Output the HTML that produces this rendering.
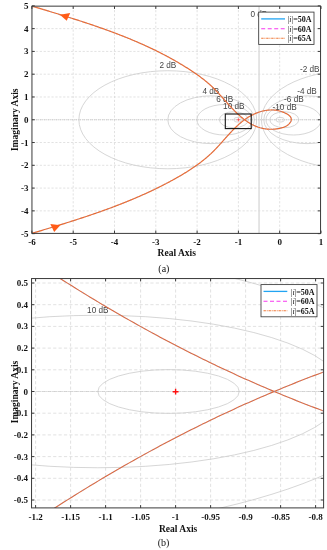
<!DOCTYPE html>
<html lang="en">
<head>
<meta charset="utf-8">
<title>Nyquist plots</title>
<style>
html,body{margin:0;padding:0;background:#fff;}
body{width:327px;height:550px;overflow:hidden;}
svg{display:block;}
</style>
</head>
<body>
<svg width="327" height="550" viewBox="0 0 327 550">
<defs>
<clipPath id="ct"><rect x="31.95" y="6.15" width="288.60" height="227.25"/></clipPath>
<clipPath id="cb"><rect x="31.55" y="278.55" width="292.05" height="229.35"/></clipPath>
<filter id="soft" x="0" y="0" width="100%" height="100%" filterUnits="userSpaceOnUse" color-interpolation-filters="sRGB"><feGaussianBlur stdDeviation="0.35"/></filter>
</defs>
<rect width="327" height="550" fill="#fff"/>
<g filter="url(#soft)">
<rect width="327" height="550" fill="#fff"/>
<g stroke="#d8d8d8" stroke-width="0.75" stroke-dasharray="2.2 1.7" fill="none">
<path d="M73.20 6.15V233.4"/>
<path d="M114.50 6.15V233.4"/>
<path d="M155.80 6.15V233.4"/>
<path d="M197.10 6.15V233.4"/>
<path d="M238.40 6.15V233.4"/>
<path d="M279.70 6.15V233.4"/>
<path d="M31.95 210.87H320.55"/>
<path d="M31.95 188.09H320.55"/>
<path d="M31.95 165.31H320.55"/>
<path d="M31.95 142.53H320.55"/>
<path d="M31.95 119.75H320.55"/>
<path d="M31.95 96.97H320.55"/>
<path d="M31.95 74.19H320.55"/>
<path d="M31.95 51.41H320.55"/>
<path d="M31.95 28.63H320.55"/>
</g>
<g clip-path="url(#ct)" stroke="#cbcbcb" stroke-width="0.8" fill="none">
<ellipse cx="167.79" cy="119.75" rx="88.89" ry="49.03"/>
<ellipse cx="211.08" cy="119.75" rx="43.29" ry="23.88"/>
<ellipse cx="224.55" cy="119.75" rx="27.64" ry="15.25"/>
<ellipse cx="233.81" cy="119.75" rx="14.51" ry="8.00"/>
<ellipse cx="237.98" cy="119.75" rx="4.17" ry="2.30"/>
<ellipse cx="350.31" cy="119.75" rx="88.89" ry="49.03"/>
<ellipse cx="307.02" cy="119.75" rx="43.29" ry="23.88"/>
<ellipse cx="293.55" cy="119.75" rx="27.64" ry="15.25"/>
<ellipse cx="284.29" cy="119.75" rx="14.51" ry="8.00"/>
<ellipse cx="280.12" cy="119.75" rx="4.17" ry="2.30"/>
<path d="M259.05 6.15V233.4" stroke="#dcdcdc" stroke-width="1.5"/>
<path d="M31.95 119.75H320.55" stroke="#c4c4c4" stroke-dasharray="1.2 0.8"/>
</g>
<g font-family="'Liberation Sans', sans-serif" font-size="8.2" fill="#444">
<text x="167.9" y="68.3" text-anchor="middle">2 dB</text>
<text x="210.8" y="93.5" text-anchor="middle">4 dB</text>
<text x="224.7" y="102.0" text-anchor="middle">6 dB</text>
<text x="233.8" y="109.2" text-anchor="middle">10 dB</text>
<text x="307.0" y="94.1" text-anchor="middle">-4 dB</text>
<text x="293.9" y="102.2" text-anchor="middle">-6 dB</text>
<text x="284.6" y="109.7" text-anchor="middle">-10 dB</text>
<text x="309.8" y="71.5" text-anchor="middle">-2 dB</text>
<text x="258.9" y="17.0" text-anchor="middle">0 dB</text>
</g>
<g clip-path="url(#ct)" stroke="#EF6A2B" stroke-width="1.2" fill="none" stroke-linejoin="round">
<path id="nyq" d="M20.06 2.46L20.91 2.72L21.75 2.98L22.59 3.23L23.44 3.49L24.28 3.75L25.13 4.01L25.97 4.26L26.82 4.52L27.66 4.78L28.51 5.03L29.35 5.29L30.20 5.55L31.05 5.80L31.89 6.06L32.74 6.31L33.59 6.57L34.43 6.83L35.28 7.08L36.13 7.34L36.98 7.60L37.83 7.85L38.67 8.11L39.52 8.37L40.37 8.62L41.22 8.88L42.07 9.13L42.92 9.39L43.77 9.65L44.61 9.91L45.46 10.16L46.31 10.42L47.16 10.68L48.01 10.94L48.86 11.19L49.71 11.45L50.56 11.71L51.41 11.97L52.26 12.23L53.11 12.49L53.96 12.75L54.81 13.00L55.66 13.26L56.51 13.52L57.36 13.79L58.21 14.05L59.06 14.31L59.91 14.57L60.76 14.83L61.60 15.09L62.45 15.36L63.30 15.62L64.15 15.88L65.00 16.15L65.85 16.41L66.70 16.68L67.55 16.94L68.40 17.21L69.25 17.47L70.10 17.74L70.94 18.01L71.79 18.28L72.64 18.55L73.49 18.82L74.34 19.08L75.19 19.36L76.03 19.63L76.88 19.90L77.73 20.17L78.58 20.44L79.42 20.72L80.27 20.99L81.12 21.27L81.96 21.54L82.81 21.82L83.65 22.09L84.50 22.37L85.34 22.65L86.19 22.93L87.03 23.21L87.88 23.49L88.72 23.77L89.57 24.05L90.41 24.34L91.25 24.62L92.10 24.91L92.94 25.19L93.78 25.48L94.62 25.77L95.46 26.06L96.31 26.34L97.15 26.64L97.99 26.93L98.83 27.22L99.67 27.51L100.51 27.81L101.35 28.10L102.19 28.40L103.02 28.69L103.86 28.99L104.70 29.29L105.54 29.59L106.37 29.89L107.21 30.20L108.04 30.50L108.88 30.80L109.71 31.11L110.55 31.42L111.38 31.72L112.21 32.03L113.05 32.34L113.88 32.66L114.71 32.97L115.54 33.28L116.37 33.60L117.20 33.91L118.03 34.23L118.86 34.55L119.69 34.87L120.52 35.19L121.35 35.52L122.17 35.84L123.00 36.16L123.82 36.49L124.65 36.82L125.47 37.15L126.30 37.48L127.12 37.81L127.94 38.15L128.77 38.48L129.59 38.82L130.41 39.16L131.23 39.49L132.05 39.84L132.86 40.18L133.68 40.52L134.50 40.87L135.32 41.21L136.13 41.56L136.95 41.91L137.76 42.26L138.58 42.62L139.39 42.97L140.20 43.33L141.01 43.68L141.82 44.04L142.63 44.41L143.44 44.77L144.25 45.13L145.06 45.50L145.86 45.87L146.67 46.24L147.47 46.61L148.28 46.98L149.08 47.35L149.88 47.73L150.69 48.11L151.49 48.49L152.29 48.87L153.09 49.25L153.88 49.64L154.68 50.03L155.48 50.41L156.27 50.80L157.07 51.20L157.86 51.59L158.66 51.99L159.45 52.39L160.24 52.79L161.03 53.19L161.82 53.59L162.61 54.00L163.39 54.41L164.18 54.82L164.96 55.23L165.75 55.64L166.53 56.06L167.31 56.48L168.10 56.90L168.88 57.32L169.66 57.74L170.43 58.17L171.21 58.60L171.99 59.03L172.76 59.46L173.54 59.89L174.31 60.33L175.08 60.77L175.85 61.21L176.62 61.65L177.39 62.10L178.16 62.55L178.92 63.00L179.69 63.45L180.45 63.90L181.22 64.36L181.98 64.82L182.74 65.28L183.50 65.74L184.26 66.21L185.02 66.68L185.77 67.15L186.53 67.62L187.28 68.10L188.03 68.57L188.78 69.05L189.53 69.54L190.28 70.02L191.03 70.51L191.77 71.00L192.52 71.49L193.26 71.99L194.00 72.49L194.74 72.99L195.47 73.50L196.20 74.00L196.93 74.52L197.66 75.03L198.38 75.55L199.11 76.07L199.82 76.60L200.54 77.13L201.25 77.66L201.96 78.20L202.67 78.74L203.37 79.28L204.07 79.83L204.76 80.39L205.45 80.95L206.14 81.51L206.82 82.07L207.50 82.65L208.17 83.22L208.84 83.80L209.50 84.39L210.16 84.98L210.82 85.57L211.47 86.17L212.11 86.78L212.75 87.39L213.38 88.00L214.01 88.62L214.64 89.25L215.26 89.88L215.87 90.51L216.49 91.15L217.10 91.79L217.70 92.43L218.31 93.08L218.91 93.73L219.51 94.38L220.10 95.03L220.70 95.69L221.29 96.35L221.88 97.01L222.47 97.67L223.06 98.33L223.65 98.99L224.24 99.66L224.83 100.32L225.42 100.99L226.01 101.65L226.60 102.32L227.20 102.98L227.79 103.64L228.39 104.30L228.99 104.96L229.59 105.62L230.19 106.28L230.80 106.93L231.40 107.59L232.02 108.24L232.63 108.88L233.25 109.53L233.88 110.17L234.51 110.81L235.14 111.44L235.78 112.07L236.42 112.70L237.07 113.32L237.72 113.93L238.38 114.54L239.05 115.15L239.72 115.74L240.40 116.34L241.08 116.92L241.77 117.49L242.46 118.06L243.16 118.62L243.86 119.17L244.58 119.71L245.29 120.24L246.02 120.76L246.75 121.26L247.48 121.76L248.22 122.25L248.97 122.72L249.73 123.18L250.49 123.62L251.26 124.05L252.03 124.47L252.81 124.87L253.60 125.26L254.40 125.63L255.20 125.99L256.00 126.33L256.82 126.65L257.64 126.95L258.47 127.24L259.31 127.51L260.15 127.76L261.00 127.99L261.85 128.20L262.71 128.40L263.58 128.57L264.45 128.73L265.33 128.86L266.20 128.98L267.09 129.08L267.97 129.16L268.86 129.22L269.75 129.25L270.65 129.27L271.54 129.27L272.44 129.25L273.34 129.21L274.23 129.15L275.13 129.07L276.03 128.97L276.93 128.85L277.82 128.71L278.72 128.55L279.61 128.37L280.50 128.16L281.39 127.94L282.27 127.68L283.13 127.41L283.98 127.10L284.81 126.75L285.61 126.37L286.39 125.95L287.13 125.49L287.84 124.99L288.51 124.43L289.13 123.83L289.71 123.17L290.23 122.46L290.69 121.70L291.04 120.90L291.25 120.08L291.30 119.25L291.17 118.44L290.89 117.66L290.47 116.92L289.94 116.24L289.32 115.62L288.62 115.05L287.87 114.53L287.07 114.05L286.26 113.60L285.44 113.18L284.61 112.78L283.77 112.41L282.93 112.07L282.08 111.76L281.23 111.47L280.37 111.21L279.51 110.97L278.64 110.76L277.77 110.57L276.90 110.41L276.02 110.27L275.14 110.16L274.26 110.08L273.38 110.02L272.49 109.98L271.61 109.97L270.72 109.98L269.84 110.01L268.95 110.06L268.07 110.14L267.19 110.24L266.30 110.36L265.42 110.50L264.55 110.66L263.67 110.84L262.80 111.04L261.93 111.26L261.07 111.49L260.21 111.74L259.36 112.01L258.51 112.30L257.66 112.60L256.83 112.92L256.00 113.25L255.17 113.60L254.36 113.96L253.55 114.34L252.75 114.73L251.96 115.13L251.18 115.54L250.41 115.97L249.64 116.41L248.89 116.86L248.14 117.32L247.40 117.79L246.67 118.27L245.94 118.76L245.23 119.26L244.52 119.77L243.81 120.29L243.12 120.82L242.43 121.36L241.74 121.90L241.07 122.46L240.39 123.02L239.73 123.59L239.07 124.17L238.41 124.76L237.76 125.35L237.11 125.95L236.47 126.55L235.84 127.16L235.20 127.78L234.57 128.40L233.95 129.03L233.33 129.66L232.71 130.29L232.09 130.93L231.48 131.58L230.87 132.23L230.26 132.88L229.65 133.53L229.05 134.19L228.45 134.85L227.84 135.51L227.24 136.18L226.65 136.84L226.05 137.51L225.45 138.18L224.85 138.85L224.26 139.52L223.66 140.19L223.06 140.86L222.46 141.53L221.87 142.20L221.27 142.87L220.67 143.53L220.06 144.20L219.46 144.86L218.86 145.53L218.25 146.19L217.64 146.84L217.03 147.50L216.41 148.15L215.79 148.80L215.17 149.44L214.55 150.08L213.92 150.72L213.29 151.35L212.66 151.98L212.02 152.60L211.37 153.21L210.73 153.83L210.07 154.43L209.42 155.03L208.76 155.63L208.09 156.22L207.42 156.80L206.75 157.38L206.08 157.96L205.40 158.53L204.71 159.10L204.03 159.66L203.34 160.22L202.64 160.77L201.94 161.32L201.24 161.86L200.54 162.40L199.83 162.94L199.12 163.47L198.41 164.00L197.69 164.52L196.97 165.04L196.25 165.56L195.52 166.07L194.80 166.58L194.07 167.08L193.33 167.58L192.60 168.08L191.86 168.57L191.12 169.06L190.37 169.55L189.63 170.03L188.88 170.51L188.13 170.99L187.38 171.47L186.63 171.94L185.87 172.41L185.12 172.87L184.36 173.33L183.60 173.79L182.83 174.25L182.07 174.71L181.30 175.16L180.54 175.61L179.77 176.06L179.00 176.50L178.23 176.94L177.46 177.38L176.68 177.82L175.91 178.26L175.13 178.69L174.36 179.13L173.58 179.56L172.80 179.98L172.02 180.41L171.24 180.84L170.46 181.26L169.68 181.68L168.90 182.10L168.11 182.52L167.33 182.93L166.54 183.34L165.76 183.76L164.97 184.16L164.18 184.57L163.39 184.98L162.60 185.38L161.81 185.78L161.02 186.18L160.23 186.58L159.44 186.98L158.64 187.37L157.85 187.77L157.05 188.16L156.25 188.55L155.46 188.94L154.66 189.32L153.86 189.71L153.06 190.09L152.26 190.47L151.46 190.85L150.66 191.23L149.85 191.61L149.05 191.98L148.24 192.35L147.44 192.73L146.63 193.10L145.83 193.46L145.02 193.83L144.21 194.20L143.40 194.56L142.59 194.92L141.78 195.28L140.97 195.64L140.16 196.00L139.35 196.35L138.53 196.71L137.72 197.06L136.90 197.41L136.09 197.76L135.27 198.11L134.46 198.46L133.64 198.80L132.82 199.15L132.00 199.49L131.19 199.83L130.37 200.17L129.55 200.51L128.72 200.85L127.90 201.18L127.08 201.52L126.26 201.85L125.43 202.18L124.61 202.51L123.79 202.84L122.96 203.17L122.14 203.50L121.31 203.82L120.48 204.15L119.66 204.47L118.83 204.79L118.00 205.11L117.17 205.43L116.34 205.75L115.51 206.07L114.68 206.38L113.85 206.70L113.02 207.01L112.19 207.32L111.36 207.63L110.52 207.94L109.69 208.25L108.86 208.56L108.02 208.87L107.19 209.17L106.35 209.48L105.52 209.78L104.68 210.08L103.85 210.38L103.01 210.68L102.17 210.98L101.33 211.28L100.50 211.58L99.66 211.87L98.82 212.17L97.98 212.46L97.14 212.76L96.30 213.05L95.46 213.34L94.62 213.63L93.78 213.92L92.94 214.21L92.10 214.50L91.26 214.79L90.41 215.07L89.57 215.36L88.73 215.64L87.89 215.92L87.04 216.21L86.20 216.49L85.36 216.77L84.51 217.05L83.67 217.33L82.82 217.61L81.98 217.89L81.13 218.16L80.29 218.44L79.44 218.72L78.59 218.99L77.75 219.27L76.90 219.54L76.06 219.81L75.21 220.09L74.36 220.36L73.51 220.63L72.67 220.90L71.82 221.17L70.97 221.44L70.12 221.71L69.28 221.97L68.43 222.24L67.58 222.51L66.73 222.78L65.88 223.04L65.03 223.31L64.18 223.57L63.34 223.83L62.49 224.10L61.64 224.36L60.79 224.62L59.94 224.89L59.09 225.15L58.24 225.41L57.39 225.67L56.54 225.93L55.69 226.19L54.84 226.45L53.99 226.71L53.14 226.97L52.29 227.23L51.44 227.48L50.59 227.74L49.74 228.00L48.89 228.26L48.04 228.51L47.19 228.77L46.34 229.03L45.49 229.28L44.64 229.54L43.79 229.79L42.94 230.05L42.09 230.30L41.24 230.56L40.39 230.81L39.54 231.06L38.69 231.32L37.84 231.57L36.99 231.82L36.14 232.08L35.29 232.33L34.44 232.58L33.59 232.84L32.74 233.09L31.89 233.34L31.05 233.59L30.20 233.85L29.35 234.10L28.50 234.35L27.65 234.60L26.80 234.86L25.95 235.11L25.11 235.36L24.26 235.61L23.41 235.86L22.56 236.12L21.72 236.37L20.87 236.62L20.02 236.87"/>
<use href="#nyq" stroke="#7f8fd0" stroke-width="0.9" stroke-dasharray="1.1 2.9" opacity="0.7"/>
</g>
<path d="M59.9 14.7L70.2 12.9L66.7 20.8Z" fill="#FF5C18"/>
<path d="M60.3 225.3L50.3 223.9L54.2 231.9Z" fill="#FF5C18"/>
<path d="M236.80 119.75H240.00M238.40 118.15V121.35" stroke="#f33" stroke-width="0.7" fill="none"/>
<rect x="225.3" y="114.0" width="25.9" height="14.6" fill="none" stroke="#111" stroke-width="1.1"/>
<g stroke="#3a3a3a" stroke-width="1" fill="none">
<rect x="31.95" y="6.15" width="288.60" height="227.25"/>
<path d="M31.90 233.4v-2.8M31.90 6.15v2.8M73.20 233.4v-2.8M73.20 6.15v2.8M114.50 233.4v-2.8M114.50 6.15v2.8M155.80 233.4v-2.8M155.80 6.15v2.8M197.10 233.4v-2.8M197.10 6.15v2.8M238.40 233.4v-2.8M238.40 6.15v2.8M279.70 233.4v-2.8M279.70 6.15v2.8M321.00 233.4v-2.8M321.00 6.15v2.8M31.95 233.65h2.8M320.55 233.65h-2.8M31.95 210.87h2.8M320.55 210.87h-2.8M31.95 188.09h2.8M320.55 188.09h-2.8M31.95 165.31h2.8M320.55 165.31h-2.8M31.95 142.53h2.8M320.55 142.53h-2.8M31.95 119.75h2.8M320.55 119.75h-2.8M31.95 96.97h2.8M320.55 96.97h-2.8M31.95 74.19h2.8M320.55 74.19h-2.8M31.95 51.41h2.8M320.55 51.41h-2.8M31.95 28.63h2.8M320.55 28.63h-2.8M31.95 5.85h2.8M320.55 5.85h-2.8"/>
</g>
<g font-family="'Liberation Serif', serif" font-weight="bold" font-size="9" fill="#111">
<text x="31.90" y="245.20" text-anchor="middle">-6</text>
<text x="73.20" y="245.20" text-anchor="middle">-5</text>
<text x="114.50" y="245.20" text-anchor="middle">-4</text>
<text x="155.80" y="245.20" text-anchor="middle">-3</text>
<text x="197.10" y="245.20" text-anchor="middle">-2</text>
<text x="238.40" y="245.20" text-anchor="middle">-1</text>
<text x="279.70" y="245.20" text-anchor="middle">0</text>
<text x="321.00" y="245.20" text-anchor="middle">1</text>
<text x="28.45" y="236.65" text-anchor="end">-5</text>
<text x="28.45" y="213.87" text-anchor="end">-4</text>
<text x="28.45" y="191.09" text-anchor="end">-3</text>
<text x="28.45" y="168.31" text-anchor="end">-2</text>
<text x="28.45" y="145.53" text-anchor="end">-1</text>
<text x="28.45" y="122.75" text-anchor="end">0</text>
<text x="28.45" y="99.97" text-anchor="end">1</text>
<text x="28.45" y="77.19" text-anchor="end">2</text>
<text x="28.45" y="54.41" text-anchor="end">3</text>
<text x="28.45" y="31.63" text-anchor="end">4</text>
<text x="28.45" y="8.85" text-anchor="end">5</text>
</g>
<rect x="258.7" y="12.1" width="55.3" height="32.3" fill="#fff" stroke="#3a3a3a" stroke-width="0.85"/>
<path d="M261.20 18.90H285.00" stroke="#22A4F2" stroke-width="1.3"/>
<path d="M261.20 28.70H285.00" stroke="#F838F0" stroke-width="1.05" stroke-dasharray="4 2.5"/>
<path d="M261.20 38.30H285.00" stroke="#F07838" stroke-width="1.05" stroke-dasharray="2.4 0.8 1 0.8"/>
<g font-family="'Liberation Serif', serif" font-weight="bold" font-size="8" fill="#111">
<text x="287.70" y="22.00"><tspan font-weight="normal">|<tspan font-style="italic">i</tspan>|</tspan>=50A</text>
<text x="287.70" y="31.80"><tspan font-weight="normal">|<tspan font-style="italic">i</tspan>|</tspan>=60A</text>
<text x="287.70" y="41.40"><tspan font-weight="normal">|<tspan font-style="italic">i</tspan>|</tspan>=65A</text>
</g>
<g font-family="'Liberation Serif', serif" font-weight="bold" font-size="9.5" fill="#111">
<text x="176.7" y="256.2" text-anchor="middle">Real Axis</text>
<text transform="translate(17.5 119.8) rotate(-90)" text-anchor="middle">Imaginary Axis</text>
</g>
<text x="163.9" y="271.6" text-anchor="middle" font-family="'Liberation Serif', serif" font-size="10" fill="#111">(a)</text>
<g stroke="#d8d8d8" stroke-width="0.75" stroke-dasharray="3.2 2.2" fill="none">
<path d="M35.60 278.55V507.9"/>
<path d="M70.60 278.55V507.9"/>
<path d="M105.60 278.55V507.9"/>
<path d="M140.60 278.55V507.9"/>
<path d="M175.60 278.55V507.9"/>
<path d="M210.60 278.55V507.9"/>
<path d="M245.60 278.55V507.9"/>
<path d="M280.60 278.55V507.9"/>
<path d="M315.60 278.55V507.9"/>
<path d="M31.55 500.00H323.6"/>
<path d="M31.55 478.30H323.6"/>
<path d="M31.55 456.60H323.6"/>
<path d="M31.55 434.90H323.6"/>
<path d="M31.55 413.20H323.6"/>
<path d="M31.55 391.50H323.6"/>
<path d="M31.55 369.80H323.6"/>
<path d="M31.55 348.10H323.6"/>
<path d="M31.55 326.40H323.6"/>
<path d="M31.55 304.70H323.6"/>
<path d="M31.55 283.00H323.6"/>
</g>
<g clip-path="url(#cb)" stroke="#cbcbcb" stroke-width="0.8" fill="none">
<ellipse cx="-59.21" cy="391.50" rx="468.52" ry="145.24"/>
<ellipse cx="97.82" cy="391.50" rx="245.95" ry="76.25"/>
<ellipse cx="168.53" cy="391.50" rx="70.71" ry="21.92"/>
<path d="M525.60 278.55V507.9" stroke="#dcdcdc" stroke-width="1.5"/>
<path d="M31.55 391.50H323.6" stroke="#c4c4c4" stroke-dasharray="1.2 0.8"/>
</g>
<g font-family="'Liberation Sans', sans-serif" font-size="8.2" fill="#444">
<text x="97.8" y="313.4" text-anchor="middle">10 dB</text>
</g>
<g clip-path="url(#cb)" stroke="#E0693A" stroke-width="1.1" fill="none" stroke-linejoin="round">
<path id="nyqb" d="M25.00 255.36L28.86 257.97L32.72 260.55L36.58 263.13L40.44 265.68L44.30 268.22L48.16 270.75L52.03 273.26L55.89 275.75L59.75 278.23L63.61 280.69L67.47 283.14L71.33 285.57L75.19 287.98L79.05 290.38L82.91 292.76L86.77 295.13L90.63 297.48L94.49 299.82L98.35 302.14L102.22 304.44L106.08 306.73L109.94 309.00L113.80 311.26L117.66 313.50L121.52 315.73L125.38 317.94L129.24 320.14L133.10 322.32L136.96 324.48L140.82 326.63L144.68 328.77L148.54 330.89L152.41 332.99L156.27 335.08L160.13 337.15L163.99 339.21L167.85 341.25L171.71 343.27L175.57 345.28L179.43 347.28L183.29 349.26L187.15 351.23L191.01 353.18L194.87 355.11L198.73 357.03L202.59 358.93L206.46 360.82L210.32 362.70L214.18 364.56L218.04 366.40L221.90 368.23L225.76 370.04L229.62 371.84L233.48 373.62L237.34 375.39L241.20 377.14L245.06 378.88L248.92 380.61L252.78 382.31L256.65 384.01L260.51 385.69L264.37 387.35L268.23 389.00L272.09 390.63L275.95 392.25L279.81 393.85L283.67 395.44L287.53 397.02L291.39 398.58L295.25 400.12L299.11 401.65L302.97 403.17L306.84 404.67L310.70 406.15L314.56 407.62L318.42 409.08L322.28 410.52L326.14 411.95L330.00 413.36"/>
<path id="nyqm" d="M25.00 527.64L28.86 525.03L32.72 522.45L36.58 519.87L40.44 517.32L44.30 514.78L48.16 512.25L52.03 509.74L55.89 507.25L59.75 504.77L63.61 502.31L67.47 499.86L71.33 497.43L75.19 495.02L79.05 492.62L82.91 490.24L86.77 487.87L90.63 485.52L94.49 483.18L98.35 480.86L102.22 478.56L106.08 476.27L109.94 474.00L113.80 471.74L117.66 469.50L121.52 467.27L125.38 465.06L129.24 462.86L133.10 460.68L136.96 458.52L140.82 456.37L144.68 454.23L148.54 452.11L152.41 450.01L156.27 447.92L160.13 445.85L163.99 443.79L167.85 441.75L171.71 439.73L175.57 437.72L179.43 435.72L183.29 433.74L187.15 431.77L191.01 429.82L194.87 427.89L198.73 425.97L202.59 424.07L206.46 422.18L210.32 420.30L214.18 418.44L218.04 416.60L221.90 414.77L225.76 412.96L229.62 411.16L233.48 409.38L237.34 407.61L241.20 405.86L245.06 404.12L248.92 402.39L252.78 400.69L256.65 398.99L260.51 397.31L264.37 395.65L268.23 394.00L272.09 392.37L275.95 390.75L279.81 389.15L283.67 387.56L287.53 385.98L291.39 384.42L295.25 382.88L299.11 381.35L302.97 379.83L306.84 378.33L310.70 376.85L314.56 375.38L318.42 373.92L322.28 372.48L326.14 371.05L330.00 369.64"/>
<use href="#nyqb" stroke="#7f8fd0" stroke-width="0.9" stroke-dasharray="1.1 2.9" opacity="0.7"/>
<use href="#nyqm" stroke="#7f8fd0" stroke-width="0.9" stroke-dasharray="1.1 2.9" opacity="0.7"/>
</g>
<path d="M172.70 391.70H178.50M175.60 388.80V394.60" stroke="#ff1010" stroke-width="1.4" fill="none"/>
<g stroke="#3a3a3a" stroke-width="1" fill="none">
<rect x="31.55" y="278.55" width="292.05" height="229.35"/>
<path d="M35.60 507.9v-2.8M35.60 278.55v2.8M70.60 507.9v-2.8M70.60 278.55v2.8M105.60 507.9v-2.8M105.60 278.55v2.8M140.60 507.9v-2.8M140.60 278.55v2.8M175.60 507.9v-2.8M175.60 278.55v2.8M210.60 507.9v-2.8M210.60 278.55v2.8M245.60 507.9v-2.8M245.60 278.55v2.8M280.60 507.9v-2.8M280.60 278.55v2.8M315.60 507.9v-2.8M315.60 278.55v2.8M31.55 500.00h2.8M323.6 500.00h-2.8M31.55 478.30h2.8M323.6 478.30h-2.8M31.55 456.60h2.8M323.6 456.60h-2.8M31.55 434.90h2.8M323.6 434.90h-2.8M31.55 413.20h2.8M323.6 413.20h-2.8M31.55 391.50h2.8M323.6 391.50h-2.8M31.55 369.80h2.8M323.6 369.80h-2.8M31.55 348.10h2.8M323.6 348.10h-2.8M31.55 326.40h2.8M323.6 326.40h-2.8M31.55 304.70h2.8M323.6 304.70h-2.8M31.55 283.00h2.8M323.6 283.00h-2.8"/>
</g>
<g font-family="'Liberation Serif', serif" font-weight="bold" font-size="9" fill="#111">
<text x="35.60" y="519.70" text-anchor="middle">-1.2</text>
<text x="70.60" y="519.70" text-anchor="middle">-1.15</text>
<text x="105.60" y="519.70" text-anchor="middle">-1.1</text>
<text x="140.60" y="519.70" text-anchor="middle">-1.05</text>
<text x="175.60" y="519.70" text-anchor="middle">-1</text>
<text x="210.60" y="519.70" text-anchor="middle">-0.95</text>
<text x="245.60" y="519.70" text-anchor="middle">-0.9</text>
<text x="280.60" y="519.70" text-anchor="middle">-0.85</text>
<text x="315.60" y="519.70" text-anchor="middle">-0.8</text>
<text x="28.05" y="503.00" text-anchor="end">-0.5</text>
<text x="28.05" y="481.30" text-anchor="end">-0.4</text>
<text x="28.05" y="459.60" text-anchor="end">-0.3</text>
<text x="28.05" y="437.90" text-anchor="end">-0.2</text>
<text x="28.05" y="416.20" text-anchor="end">-0.1</text>
<text x="28.05" y="394.50" text-anchor="end">0</text>
<text x="28.05" y="372.80" text-anchor="end">0.1</text>
<text x="28.05" y="351.10" text-anchor="end">0.2</text>
<text x="28.05" y="329.40" text-anchor="end">0.3</text>
<text x="28.05" y="307.70" text-anchor="end">0.4</text>
<text x="28.05" y="286.00" text-anchor="end">0.5</text>
</g>
<rect x="261.0" y="284.6" width="56.0" height="32.2" fill="#fff" stroke="#3a3a3a" stroke-width="0.85"/>
<path d="M263.50 291.40H287.30" stroke="#22A4F2" stroke-width="1.3"/>
<path d="M263.50 301.20H287.30" stroke="#F838F0" stroke-width="1.05" stroke-dasharray="4 2.5"/>
<path d="M263.50 310.80H287.30" stroke="#F07838" stroke-width="1.05" stroke-dasharray="2.4 0.8 1 0.8"/>
<g font-family="'Liberation Serif', serif" font-weight="bold" font-size="8" fill="#111">
<text x="290.80" y="294.50"><tspan font-weight="normal">|<tspan font-style="italic">i</tspan>|</tspan>=50A</text>
<text x="290.80" y="304.30"><tspan font-weight="normal">|<tspan font-style="italic">i</tspan>|</tspan>=60A</text>
<text x="290.80" y="313.90"><tspan font-weight="normal">|<tspan font-style="italic">i</tspan>|</tspan>=65A</text>
</g>
<g font-family="'Liberation Serif', serif" font-weight="bold" font-size="9.5" fill="#111">
<text x="178.1" y="531.5" text-anchor="middle">Real Axis</text>
<text transform="translate(17.5 392) rotate(-90)" text-anchor="middle">Imaginary Axis</text>
</g>
<text x="163.6" y="545.5" text-anchor="middle" font-family="'Liberation Serif', serif" font-size="10" fill="#111">(b)</text>
</g>
</svg>
</body>
</html>
